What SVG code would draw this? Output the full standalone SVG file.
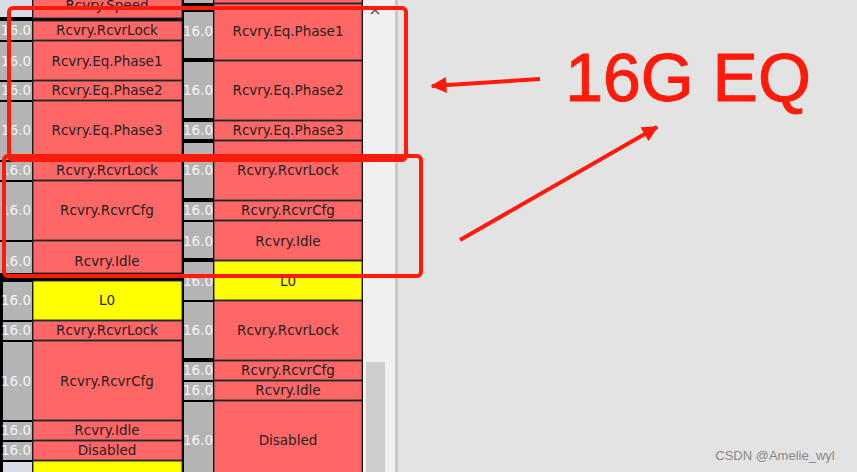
<svg xmlns="http://www.w3.org/2000/svg" width="857" height="472" viewBox="0 0 857 472">
<defs>
<style>
.r{fill:#ff6666;stroke:#333;stroke-width:1}
.y{fill:#ffff00;stroke:#333;stroke-width:1}
.g{fill:#b4b4b4}
.t{font-family:"DejaVu Sans",sans-serif;font-size:13.5px;fill:#222;text-anchor:middle}
.n{font-family:"DejaVu Sans",sans-serif;font-size:13.5px;fill:#f4f4f4;text-anchor:middle}
.box{fill:none;stroke:#ff1a0a;stroke-width:4}
</style>
<marker id="ah" viewBox="0 0 10 10" refX="9" refY="5" markerWidth="6" markerHeight="4" orient="auto"><path d="M0,0L10,5L0,10z" fill="#ff1a0a"/></marker>
</defs>
<rect width="857" height="472" fill="#e3e3e3"/>
<rect x="0" y="0" width="364" height="472" fill="#000"/>
<g id="scroll"><rect x="363" y="0" width="34" height="472" fill="#f0f0f0"/><rect x="395" y="0" width="3" height="472" fill="#c8c8c8"/><rect x="366" y="362" width="19" height="110" fill="#cdcdcd"/><path d="M371,14L375,10L379,14" fill="none" stroke="#555" stroke-width="1.5"/></g>
<g id="left">
<rect x="0" y="0" width="32" height="17" fill="#d8dce8"/><rect class="r" x="33" y="-2" width="149" height="20"/><text class="t" x="107" y="10">Rcvry.Speed</text>
<rect class="g" x="0" y="21" width="32" height="19"/><rect class="r" x="33" y="21" width="149" height="19"/><text class="n" x="16" y="35">16.0</text><text class="t" x="107" y="35">Rcvry.RcvrLock</text>
<rect class="g" x="0" y="42" width="32" height="38"/><rect class="r" x="33" y="41" width="149" height="39"/><text class="n" x="16" y="66">16.0</text><text class="t" x="107" y="66">Rcvry.Eq.Phase1</text>
<rect class="g" x="0" y="82" width="32" height="18"/><rect class="r" x="33" y="81" width="149" height="19"/><text class="n" x="16" y="95">16.0</text><text class="t" x="107" y="95">Rcvry.Eq.Phase2</text>
<rect class="g" x="0" y="102" width="32" height="58"/><rect class="r" x="33" y="101" width="149" height="59"/><text class="n" x="16" y="135">16.0</text><text class="t" x="107" y="135">Rcvry.Eq.Phase3</text>
<rect class="g" x="0" y="162" width="32" height="18"/><rect class="r" x="33" y="161" width="149" height="19"/><text class="n" x="16" y="175">16.0</text><text class="t" x="107" y="175">Rcvry.RcvrLock</text>
<rect class="g" x="0" y="182" width="32" height="58"/><rect class="r" x="33" y="181" width="149" height="59"/><text class="n" x="16" y="215">16.0</text><text class="t" x="107" y="215">Rcvry.RcvrCfg</text>
<rect class="g" x="0" y="242" width="32" height="31"/><rect class="r" x="33" y="241" width="149" height="32"/><text class="n" x="16" y="266">16.0</text><text class="t" x="107" y="266">Rcvry.Idle</text>
<rect class="g" x="3" y="282" width="29" height="38"/><rect class="y" x="33" y="281" width="149" height="39"/><text class="n" x="16" y="305">16.0</text><text class="t" x="107" y="305">L0</text>
<rect class="g" x="3" y="322" width="29" height="18"/><rect class="r" x="33" y="321" width="149" height="19"/><text class="n" x="16" y="335">16.0</text><text class="t" x="107" y="335">Rcvry.RcvrLock</text>
<rect class="g" x="3" y="342" width="29" height="78"/><rect class="r" x="33" y="341" width="149" height="79"/><text class="n" x="16" y="386">16.0</text><text class="t" x="107" y="386">Rcvry.RcvrCfg</text>
<rect class="g" x="3" y="422" width="29" height="18"/><rect class="r" x="33" y="421" width="149" height="19"/><text class="n" x="16" y="435">16.0</text><text class="t" x="107" y="435">Rcvry.Idle</text>
<rect class="g" x="3" y="442" width="29" height="18"/><rect class="r" x="33" y="441" width="149" height="19"/><text class="n" x="16" y="455">16.0</text><text class="t" x="107" y="455">Disabled</text>
<rect x="3" y="462" width="29" height="10" fill="#d8dce8"/><rect class="y" x="33" y="461" width="149" height="12"/>
</g>
<g id="right">
<rect class="g" x="184" y="0" width="29" height="3"/><rect class="r" x="214" y="-2" width="148" height="5"/>
<rect class="g" x="184" y="12" width="29" height="46"/><rect class="r" x="214" y="4" width="148" height="56"/><text class="n" x="198" y="36">16.0</text><text class="t" x="288" y="36">Rcvry.Eq.Phase1</text>
<rect class="g" x="184" y="62" width="29" height="56"/><rect class="r" x="214" y="61" width="148" height="59"/><text class="n" x="198" y="95">16.0</text><text class="t" x="288" y="95">Rcvry.Eq.Phase2</text>
<rect class="g" x="184" y="122" width="29" height="17"/><rect class="r" x="214" y="121" width="148" height="19"/><text class="n" x="198" y="135">16.0</text><text class="t" x="288" y="135">Rcvry.Eq.Phase3</text>
<rect class="g" x="184" y="143" width="29" height="55"/><rect class="r" x="214" y="141" width="148" height="59"/><text class="n" x="198" y="175">16.0</text><text class="t" x="288" y="175">Rcvry.RcvrLock</text>
<rect class="g" x="184" y="202" width="29" height="18"/><rect class="r" x="214" y="201" width="148" height="19"/><text class="n" x="198" y="215">16.0</text><text class="t" x="288" y="215">Rcvry.RcvrCfg</text>
<rect class="g" x="184" y="222" width="29" height="36"/><rect class="r" x="214" y="221" width="148" height="39"/><text class="n" x="198" y="246">16.0</text><text class="t" x="288" y="246">Rcvry.Idle</text>
<rect class="g" x="184" y="262" width="29" height="38"/><rect class="y" x="214" y="261" width="148" height="39"/><text class="n" x="198" y="286">16.0</text><text class="t" x="288" y="286">L0</text>
<rect class="g" x="184" y="302" width="29" height="56"/><rect class="r" x="214" y="301" width="148" height="59"/><text class="n" x="198" y="335">16.0</text><text class="t" x="288" y="335">Rcvry.RcvrLock</text>
<rect class="g" x="184" y="362" width="29" height="18"/><rect class="r" x="214" y="361" width="148" height="19"/><text class="n" x="198" y="375">16.0</text><text class="t" x="288" y="375">Rcvry.RcvrCfg</text>
<rect class="g" x="184" y="382" width="29" height="18"/><rect class="r" x="214" y="381" width="148" height="19"/><text class="n" x="198" y="395">16.0</text><text class="t" x="288" y="395">Rcvry.Idle</text>
<rect class="g" x="184" y="402" width="29" height="70"/><rect class="r" x="214" y="401" width="148" height="72"/><text class="n" x="198" y="445">16.0</text><text class="t" x="288" y="445">Disabled</text>
</g>
<g id="annotations">
<rect class="box" x="9" y="8" width="397" height="152" rx="4"/>
<rect class="box" x="4" y="156" width="417" height="120" rx="4"/>
<text x="688" y="101" font-family="Liberation Sans,sans-serif" font-size="68" fill="#ff1a0a" text-anchor="middle" stroke="#ff1a0a" stroke-width="1">16G EQ</text>
<text x="775" y="460" font-family="Liberation Sans,sans-serif" font-size="13" fill="#888" text-anchor="middle">CSDN @Amelie_wyl</text>
</g>
<g id="connectors">
<path d="M540,79L432,86" stroke="#ff1a0a" stroke-width="4" marker-end="url(#ah)"/>
<path d="M460,240L657,127" stroke="#ff1a0a" stroke-width="4" marker-end="url(#ah)"/>
</g>
</svg>
